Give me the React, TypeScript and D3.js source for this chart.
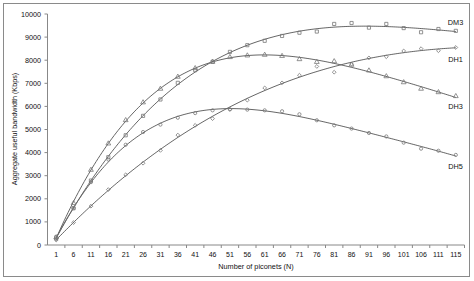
import React from 'react';
import * as d3 from 'd3';

const categories = ['1','6','11','16','21','26','31','36','41','46','51','56','61','66','71','76','81','86','91','96','101','106','111','115'];
const dm3 = [330,1590,2790,3800,4750,5590,6300,7020,7570,7930,8360,8650,8840,9050,9190,9240,9570,9610,9410,9570,9390,9210,9350,9270];
const dh1 = [215,970,1680,2400,3040,3540,4095,4760,5180,5470,5875,6270,6800,7020,7350,7730,7480,7830,8100,8150,8400,8500,8410,8550];
const dh3 = [330,1810,3250,4390,5400,6170,6760,7280,7650,7930,8130,8200,8230,8180,8040,7920,7950,7800,7550,7300,7040,6760,6610,6440];
const dh5 = [260,1600,2720,3700,4340,4890,5210,5510,5710,5830,5870,5860,5830,5790,5660,5400,5180,5040,4850,4700,4430,4170,4080,3900];
const yTicks = [0,1000,2000,3000,4000,5000,6000,7000,8000,9000,10000];
const seriesNames = ['DM3','DH1','DH3','DH5'];

const W = 474, H = 281;
const plotLeft = 47.5, plotRight = 464.5, plotTop = 14, plotBottom = 245;

function polyfit(xs: number[], ys: number[], deg: number): number[] {
  const n = deg + 1;
  const A: number[][] = Array.from({ length: n }, () => new Array(n + 1).fill(0));
  for (let k = 0; k < xs.length; k++) {
    const pw: number[] = [];
    for (let i = 0; i < 2 * n; i++) pw.push(Math.pow(xs[k], i));
    for (let r = 0; r < n; r++) {
      for (let c = 0; c < n; c++) A[r][c] += pw[r + c];
      A[r][n] += ys[k] * pw[r];
    }
  }
  for (let i = 0; i < n; i++) {
    let p = i;
    for (let r = i + 1; r < n; r++) if (Math.abs(A[r][i]) > Math.abs(A[p][i])) p = r;
    [A[i], A[p]] = [A[p], A[i]];
    for (let r = 0; r < n; r++) {
      if (r === i) continue;
      const f = A[r][i] / A[i][i];
      for (let c = i; c <= n; c++) A[r][c] -= f * A[i][c];
    }
  }
  return A.map((row, i) => row[n] / row[i]);
}

export default function App() {
  const x = d3.scaleBand<string>().domain(categories).range([plotLeft, plotRight]).padding(0);
  const y = d3.scaleLinear().domain([0, 10000]).range([plotBottom, plotTop]);
  const cx = (i: number) => (x(categories[0]) as number) + x.bandwidth() * (i + 0.5);

  const data = [dm3, dh1, dh3, dh5];
  const symbols = [d3.symbolSquare, d3.symbolDiamond2, d3.symbolTriangle, d3.symbolCircle];
  const symSizes = [10, 9, 10, 8];
  const labelY = [22.5, 59.5, 106, 166.5];
  const font = 'Liberation Sans, Arial, sans-serif';

  const trend = (vals: number[]) => {
    const n = vals.length - 1;
    const xs = vals.map((_, i) => i / n);
    const coef = polyfit(xs, vals, 4);
    const pts: [number, number][] = [];
    for (let t = 0; t <= 200; t++) {
      const u = t / 200;
      let v = 0;
      for (let k = coef.length - 1; k >= 0; k--) v = v * u + coef[k];
      pts.push([cx(u * n), y(v)]);
    }
    return d3.line().curve(d3.curveLinear)(pts) || '';
  };

  return (
    <svg width={W} height={H} style={{ position: 'absolute', left: 0, top: 0, background: '#fff' }} fontFamily={font}>
      <rect x={3.5} y={3.5} width={466} height={273} fill="#fff" stroke="#8a8a8a" strokeWidth={1} />
      {/* y axis */}
      <line x1={plotLeft} x2={plotLeft} y1={plotTop} y2={plotBottom} stroke="#888" />
      {yTicks.map(t => (
        <g key={t}>
          <line x1={plotLeft - 3} x2={plotLeft} y1={y(t)} y2={y(t)} stroke="#888" />
          <text x={41} y={y(t)} dy="0.35em" textAnchor="end" fontSize={7.2} fill="#111">{t}</text>
        </g>
      ))}
      {/* x axis */}
      <line x1={plotLeft} x2={plotRight} y1={plotBottom} y2={plotBottom} stroke="#888" />
      {categories.map((c, i) => (
        <g key={c}>
          <line x1={(x(c) as number) + x.bandwidth()} x2={(x(c) as number) + x.bandwidth()} y1={plotBottom} y2={plotBottom + 3} stroke="#888" />
          <text x={cx(i)} y={255} dy="0.35em" textAnchor="middle" fontSize={7} fill="#111">{c}</text>
        </g>
      ))}
      <text x={256} y={266} dy="0.35em" textAnchor="middle" fontSize={7.3} fill="#111">Number of piconets (N)</text>
      <text transform={`translate(14,129) rotate(-90)`} textAnchor="middle" dy="0.35em" fontSize={7.2} fill="#111">Aggregate useful bandwidth (Kbps)</text>
      {/* trend lines */}
      {data.map((vals, si) => (
        <path key={'l' + si} d={trend(vals)} fill="none" stroke="#666" strokeWidth={1} />
      ))}
      {/* markers */}
      {data.map((vals, si) => (
        <g key={'m' + si}>
          {vals.map((v, i) => (
            <path key={i} transform={`translate(${cx(i)},${y(v)})`} d={d3.symbol().type(symbols[si]).size(symSizes[si])() || ''} fill="none" stroke="#777" strokeWidth={0.8} />
          ))}
        </g>
      ))}
      {/* series labels */}
      {seriesNames.map((s, si) => (
        <text key={s} x={455.5} y={labelY[si]} dy="0.35em" textAnchor="middle" fontSize={7.3} fill="#111">{s}</text>
      ))}
    </svg>
  );
}
